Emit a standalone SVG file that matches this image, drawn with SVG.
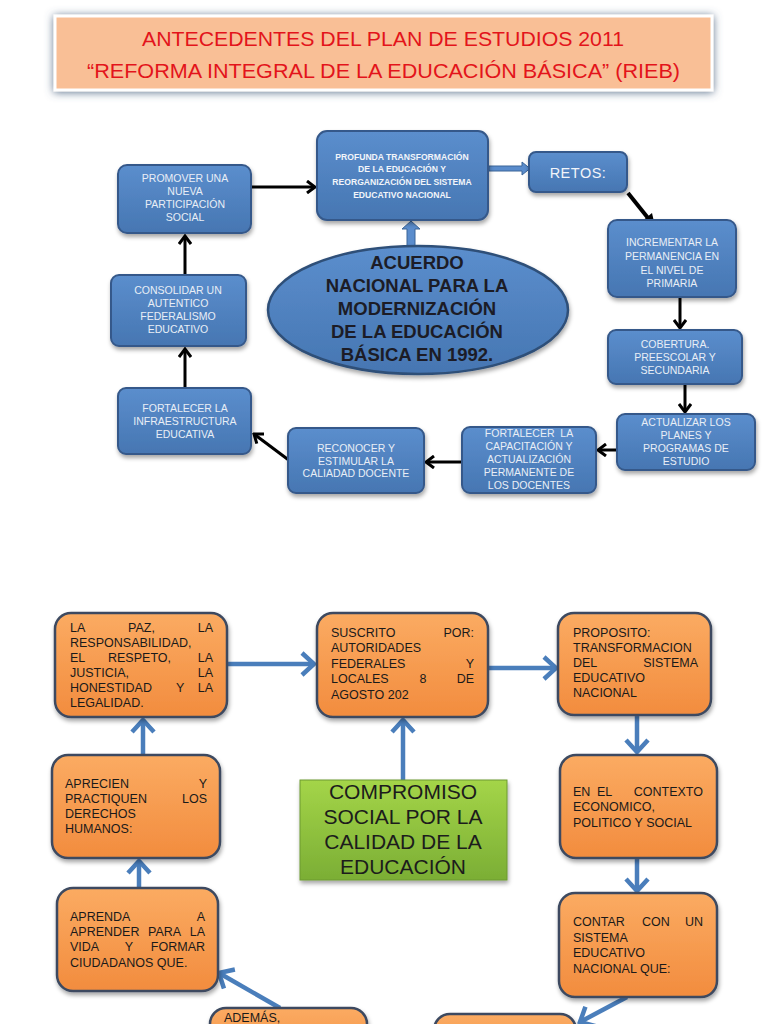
<svg xmlns="http://www.w3.org/2000/svg" width="768" height="1024" viewBox="0 0 768 1024">
<defs>
<style>
.bn{fill:url(#gB);stroke:#36598a;stroke-width:2;filter:url(#sh)}
.bt{font-family:"Liberation Sans",Arial,sans-serif;font-size:10.5px;fill:#e8eef6;text-anchor:middle}
.pt{font-family:"Liberation Sans",Arial,sans-serif;font-size:8.6px;font-weight:bold;fill:#f2f5fa;text-anchor:middle}
.on{fill:url(#gO);stroke:#3c4a60;stroke-width:2.5;filter:url(#sh)}
.ot{font-family:"Liberation Sans",Arial,sans-serif;font-size:12.5px;fill:#1a1a1a}
.e{text-anchor:end}
.m{text-anchor:middle}
.ka{stroke:#000;stroke-width:3;fill:none;marker-end:url(#kh)}
.ua{stroke:#4a7ebb;stroke-width:4.5;fill:none;marker-end:url(#bh)}
.blk{fill:#5a8ccc;stroke:#3a6598;stroke-width:1}
</style>
<linearGradient id="gB" x1="0" y1="0" x2="0" y2="1"><stop offset="0" stop-color="#5b8ecd"/><stop offset="1" stop-color="#4676b2"/></linearGradient>
<linearGradient id="gO" x1="0" y1="0" x2="0" y2="1"><stop offset="0" stop-color="#fbab62"/><stop offset="1" stop-color="#f28c3e"/></linearGradient>
<linearGradient id="gG" x1="0" y1="0" x2="0" y2="1"><stop offset="0" stop-color="#a4d548"/><stop offset="1" stop-color="#7bae35"/></linearGradient>
<filter id="sh" x="-20%" y="-20%" width="140%" height="150%"><feDropShadow dx="1" dy="3" stdDeviation="2" flood-color="#000" flood-opacity="0.35"/></filter>
<filter id="tsh" x="-10%" y="-30%" width="120%" height="160%"><feDropShadow dx="0" dy="1" stdDeviation="4" flood-color="#4f6684" flood-opacity="0.9"/></filter>
<marker id="kh" viewBox="0 0 12 14" refX="10" refY="7" markerWidth="12" markerHeight="14" markerUnits="userSpaceOnUse" orient="auto"><path d="M2,1 L10,7 L2,13" fill="none" stroke="#000" stroke-width="3"/></marker>
<marker id="bh" viewBox="0 0 18 26" refX="15" refY="13" markerWidth="18" markerHeight="26" markerUnits="userSpaceOnUse" orient="auto"><path d="M3,2 L15,13 L3,24" fill="none" stroke="#4a7ebb" stroke-width="4.5"/></marker>
</defs>
<rect width="768" height="1024" fill="#fff"/>

<g id="title">
<rect x="55" y="16" width="657" height="74" fill="#f9bf96" stroke="#fff" stroke-width="3" filter="url(#tsh)"/>
<text x="383" y="46" font-family="Liberation Sans,Arial,sans-serif" font-size="21" fill="#e3141b" text-anchor="middle" textLength="482" lengthAdjust="spacingAndGlyphs">ANTECEDENTES DEL PLAN DE ESTUDIOS 2011</text>
<text x="383.5" y="78" font-family="Liberation Sans,Arial,sans-serif" font-size="21" fill="#e3141b" text-anchor="middle" textLength="593" lengthAdjust="spacingAndGlyphs">“REFORMA INTEGRAL DE LA EDUCACIÓN BÁSICA” (RIEB)</text>
</g>

<g id="connectors">
<line class="ka" x1="251" y1="187" x2="315" y2="187"/>
<line class="ka" x1="185" y1="275" x2="185" y2="236"/>
<line class="ka" x1="185" y1="388" x2="185" y2="349"/>
<line class="ka" x1="680" y1="297" x2="680" y2="328"/>
<line class="ka" x1="685" y1="384" x2="685" y2="412"/>
<line class="ka" x1="617" y1="450" x2="598" y2="450"/>
<line class="ka" x1="462" y1="462" x2="426" y2="462"/>
<line class="ka" x1="290" y1="461" x2="254" y2="434"/>
<line x1="628" y1="193" x2="648" y2="218" stroke="#000" stroke-width="4"/>
<polygon points="655,226 652,212.9 642.8,220.5" fill="#000"/>
<path class="blk" d="M407,246 L407,229 L402,229 L411,221 L420,229 L415,229 L415,246 Z"/>
<path class="blk" d="M489,166 L522,166 L522,162 L530,168.5 L522,175 L522,171 L489,171 Z"/>
<line class="ua" x1="227" y1="664" x2="314" y2="664"/>
<line class="ua" x1="488" y1="668" x2="556" y2="668"/>
<line class="ua" x1="637" y1="716" x2="637" y2="752"/>
<line class="ua" x1="637" y1="858" x2="637" y2="891"/>
<line class="ua" x1="627" y1="997" x2="580" y2="1022"/>
<line class="ua" x1="280" y1="1008" x2="219" y2="973"/>
<line class="ua" x1="139" y1="888" x2="139" y2="861"/>
<line class="ua" x1="143" y1="755" x2="143" y2="720"/>
<line class="ua" x1="403" y1="780" x2="403" y2="720"/>
</g>

<g id="n-promover">
<rect class="bn" x="118" y="165" width="133" height="68" rx="9"/>
<text class="bt" x="185" y="182">PROMOVER UNA</text>
<text class="bt" x="185" y="195">NUEVA</text>
<text class="bt" x="185" y="208">PARTICIPACIÓN</text>
<text class="bt" x="185" y="221">SOCIAL</text>
</g>
<g id="n-profunda">
<rect class="bn" x="317" y="131" width="171" height="89" rx="10"/>
<text class="pt" x="402" y="160">PROFUNDA TRANSFORMACIÓN</text>
<text class="pt" x="402" y="172">DE LA EDUCACIÓN Y</text>
<text class="pt" x="402" y="185">REORGANIZACIÓN DEL SISTEMA</text>
<text class="pt" x="402" y="198">EDUCATIVO NACIONAL</text>
</g>
<g id="n-retos">
<rect class="bn" x="529" y="152" width="98" height="40" rx="7"/>
<text x="578" y="178" font-family="Liberation Sans,Arial,sans-serif" font-size="14.5" fill="#f2f5fa" text-anchor="middle" letter-spacing="0.5">RETOS:</text>
</g>
<g id="n-incrementar">
<rect class="bn" x="608" y="220" width="128" height="77" rx="9"/>
<text class="bt" x="672" y="246">INCREMENTAR LA</text>
<text class="bt" x="672" y="260">PERMANENCIA EN</text>
<text class="bt" x="672" y="274">EL NIVEL DE</text>
<text class="bt" x="672" y="287">PRIMARIA</text>
</g>
<g id="n-cobertura">
<rect class="bn" x="608" y="330" width="134" height="54" rx="8"/>
<text class="bt" x="675" y="348">COBERTURA.</text>
<text class="bt" x="675" y="361">PREESCOLAR Y</text>
<text class="bt" x="675" y="374">SECUNDARIA</text>
</g>
<g id="n-actualizar">
<rect class="bn" x="617" y="414" width="138" height="56" rx="8"/>
<text class="bt" x="686" y="426">ACTUALIZAR LOS</text>
<text class="bt" x="686" y="439">PLANES Y</text>
<text class="bt" x="686" y="452">PROGRAMAS DE</text>
<text class="bt" x="686" y="465">ESTUDIO</text>
</g>
<g id="n-capacitacion">
<rect class="bn" x="462" y="427" width="134" height="66" rx="8"/>
<text class="bt" x="529" y="437" xml:space="preserve">FORTALECER  LA</text>
<text class="bt" x="529" y="450">CAPACITACIÓN Y</text>
<text class="bt" x="529" y="463">ACTUALIZACIÓN</text>
<text class="bt" x="529" y="476">PERMANENTE DE</text>
<text class="bt" x="529" y="489">LOS DOCENTES</text>
</g>
<g id="n-reconocer">
<rect class="bn" x="288" y="428" width="136" height="65" rx="8"/>
<text class="bt" x="356" y="452">RECONOCER Y</text>
<text class="bt" x="356" y="465">ESTIMULAR LA</text>
<text class="bt" x="356" y="477">CALIADAD DOCENTE</text>
</g>
<g id="n-infra">
<rect class="bn" x="118" y="388" width="133" height="66" rx="8"/>
<text class="bt" x="185" y="412">FORTALECER LA</text>
<text class="bt" x="185" y="425">INFRAESTRUCTURA</text>
<text class="bt" x="185" y="438">EDUCATIVA</text>
</g>
<g id="n-consolidar">
<rect class="bn" x="111" y="275" width="135" height="71" rx="8"/>
<text class="bt" x="178" y="294">CONSOLIDAR UN</text>
<text class="bt" x="178" y="307">AUTENTICO</text>
<text class="bt" x="178" y="320">FEDERALISMO</text>
<text class="bt" x="178" y="333">EDUCATIVO</text>
</g>
<g id="n-acuerdo">
<ellipse cx="418" cy="310" rx="150" ry="64" fill="url(#gB)" stroke="#2f4f78" stroke-width="2.5" filter="url(#sh)"/>
<g font-family="Liberation Sans,Arial,sans-serif" font-size="18.5" font-weight="bold" fill="#1c1c26" text-anchor="middle">
<text x="417" y="269">ACUERDO</text>
<text x="417" y="292">NACIONAL PARA LA</text>
<text x="417" y="315">MODERNIZACIÓN</text>
<text x="417" y="338">DE LA EDUCACIÓN</text>
<text x="417" y="361">BÁSICA EN 1992.</text>
</g>
</g>

<g id="n-paz">
<rect class="on" x="55" y="613" width="172" height="104" rx="16"/>
<text class="ot" x="70" y="632">LA</text><text class="ot" x="128" y="632">PAZ,</text><text class="ot e" x="213" y="632">LA</text>
<text class="ot" x="70" y="647">RESPONSABILIDAD,</text>
<text class="ot" x="70" y="662">EL</text><text class="ot" x="108" y="662">RESPETO,</text><text class="ot e" x="213" y="662">LA</text>
<text class="ot" x="70" y="677">JUSTICIA,</text><text class="ot e" x="213" y="677">LA</text>
<text class="ot" x="70" y="692">HONESTIDAD</text><text class="ot" x="176" y="692">Y</text><text class="ot e" x="213" y="692">LA</text>
<text class="ot" x="70" y="707">LEGALIDAD.</text>
</g>
<g id="n-suscrito">
<rect class="on" x="317" y="613" width="171" height="104" rx="16"/>
<text class="ot" x="331" y="637">SUSCRITO</text><text class="ot e" x="474" y="637">POR:</text>
<text class="ot" x="331" y="652">AUTORIDADES</text>
<text class="ot" x="331" y="668">FEDERALES</text><text class="ot e" x="474" y="668">Y</text>
<text class="ot" x="331" y="683">LOCALES</text><text class="ot m" x="423" y="683">8</text><text class="ot e" x="474" y="683">DE</text>
<text class="ot" x="331" y="699">AGOSTO 202</text>
</g>
<g id="n-proposito">
<rect class="on" x="558" y="613" width="153" height="102" rx="16"/>
<text class="ot" x="573" y="637">PROPOSITO:</text>
<text class="ot" x="573" y="652">TRANSFORMACION</text>
<text class="ot" x="573" y="667">DEL</text><text class="ot e" x="698" y="667">SISTEMA</text>
<text class="ot" x="573" y="682">EDUCATIVO</text>
<text class="ot" x="573" y="697">NACIONAL</text>
</g>
<g id="n-aprecien">
<rect class="on" x="52" y="755" width="168" height="103" rx="16"/>
<text class="ot" x="65" y="788">APRECIEN</text><text class="ot e" x="207" y="788">Y</text>
<text class="ot" x="65" y="803">PRACTIQUEN</text><text class="ot e" x="207" y="803">LOS</text>
<text class="ot" x="65" y="818">DERECHOS</text>
<text class="ot" x="65" y="833">HUMANOS:</text>
</g>
<g id="n-compromiso">
<rect x="300" y="780" width="207" height="100" fill="url(#gG)" stroke="#6c9a30" stroke-width="1" filter="url(#sh)"/>
<g font-family="Liberation Sans,Arial,sans-serif" font-size="21" fill="#1c1c1c" text-anchor="middle">
<text x="403" y="799">COMPROMISO</text>
<text x="403" y="824">SOCIAL POR LA</text>
<text x="403" y="849">CALIDAD DE LA</text>
<text x="403" y="874">EDUCACIÓN</text>
</g>
</g>
<g id="n-contexto">
<rect class="on" x="560" y="755" width="157" height="103" rx="16"/>
<text class="ot" x="573" y="796">EN</text><text class="ot" x="597" y="796">EL</text><text class="ot e" x="703" y="796">CONTEXTO</text>
<text class="ot" x="573" y="811">ECONOMICO,</text>
<text class="ot" x="573" y="827">POLITICO Y SOCIAL</text>
</g>
<g id="n-aprenda">
<rect class="on" x="57" y="888" width="161" height="103" rx="16"/>
<text class="ot" x="70" y="921">APRENDA</text><text class="ot e" x="205" y="921">A</text>
<text class="ot" x="70" y="936">APRENDER</text><text class="ot" x="148" y="936">PARA</text><text class="ot e" x="205" y="936">LA</text>
<text class="ot" x="70" y="951">VIDA</text><text class="ot m" x="129" y="951">Y</text><text class="ot e" x="205" y="951">FORMAR</text>
<text class="ot" x="70" y="967">CIUDADANOS QUE.</text>
</g>
<g id="n-contar">
<rect class="on" x="559" y="893" width="158" height="104" rx="16"/>
<text class="ot" x="573" y="926">CONTAR</text><text class="ot" x="642" y="926">CON</text><text class="ot e" x="703" y="926">UN</text>
<text class="ot" x="573" y="942">SISTEMA</text>
<text class="ot" x="573" y="957">EDUCATIVO</text>
<text class="ot" x="573" y="973">NACIONAL QUE:</text>
</g>
<g id="n-ademas">
<rect class="on" x="210" y="1008" width="157" height="60" rx="16"/>
<text class="ot" x="224" y="1021.5">ADEMÁS,</text>
</g>
<g id="n-bottom">
<rect class="on" x="434" y="1014" width="142" height="60" rx="16"/>
</g>
</svg>
